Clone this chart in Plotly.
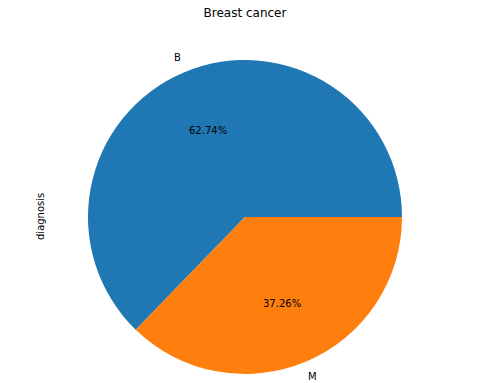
import math
import plotly.graph_objects as go

labels = ["B", "M"]
values = [357, 212]
colors = ["#1f77b4", "#ff7f0e"]
title = "Breast cancer"
ylabel = "diagnosis"

W, H = 496, 383
cx, cy, r = 245.0, 217.0, 157.0

total = sum(values)
# matplotlib-style: first slice starts at 3 o'clock and runs counterclockwise.
# plotly's rotation is the clockwise angle from 12 o'clock of the first slice's leading edge
rot = 90 - 360 * values[0] / total

fig = go.Figure(go.Pie(
    labels=labels, values=values, sort=False, direction="clockwise",
    rotation=rot, textinfo="none", hoverinfo="label+percent",
    marker=dict(colors=colors, line=dict(width=0)),
    domain=dict(x=[(cx - r) / W, (cx + r) / W], y=[1 - (cy + r) / H, 1 - (cy - r) / H]),
    showlegend=False,
))

start = 0.0
font = dict(family="DejaVu Sans", size=10, color="black")
for lab, v in zip(labels, values):
    frac = v / total
    mid = math.radians((start + frac / 2) * 360)
    for rad, txt in [(1.1, lab), (0.6, f"{frac*100:.2f}%")]:
        px = cx + rad * r * math.cos(mid)
        py = cy - rad * r * math.sin(mid)
        fig.add_annotation(x=px / W, y=1 - py / H, xref="paper", yref="paper",
                           text=txt, showarrow=False, font=font,
                           xanchor="center", yanchor="middle")
    start += frac

fig.add_annotation(x=40 / W, y=1 - 217 / H, xref="paper", yref="paper", text=ylabel,
                   textangle=-90, showarrow=False, font=font,
                   xanchor="center", yanchor="middle")

fig.update_layout(
    width=W, height=H, margin=dict(l=0, r=0, t=0, b=0),
    paper_bgcolor="white", plot_bgcolor="white",
    title=dict(text=title, x=245 / W, xanchor="center", y=1 - 13 / H, yanchor="middle",
               yref="container", font=dict(family="DejaVu Sans", size=12, color="black")),
)

fig.write_html("out.html")
